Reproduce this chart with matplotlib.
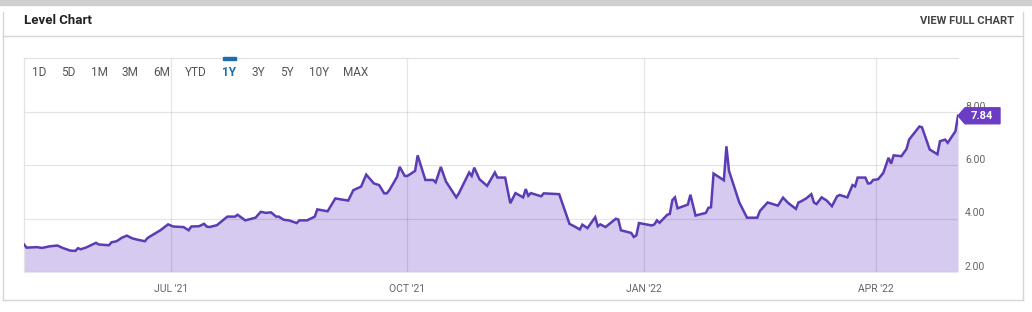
import matplotlib
matplotlib.use("Agg")
import matplotlib.pyplot as plt
import matplotlib.dates as mdates
from matplotlib.patches import Polygon, Rectangle
from matplotlib.lines import Line2D
import pandas as pd

# level data
dates = [
    "2021-05-05", "2021-05-06", "2021-05-10", "2021-05-12", "2021-05-15", "2021-05-18",
    "2021-05-20", "2021-05-23", "2021-05-25", "2021-05-26", "2021-05-27", "2021-05-29",
    "2021-05-31", "2021-06-02", "2021-06-03", "2021-06-07", "2021-06-08", "2021-06-10",
    "2021-06-12", "2021-06-14", "2021-06-16", "2021-06-18", "2021-06-21", "2021-06-22",
    "2021-06-23", "2021-06-27", "2021-06-30", "2021-07-02", "2021-07-06", "2021-07-08",
    "2021-07-09", "2021-07-12", "2021-07-14", "2021-07-15", "2021-07-16", "2021-07-19",
    "2021-07-23", "2021-07-26", "2021-07-27", "2021-07-30", "2021-08-03", "2021-08-05",
    "2021-08-07", "2021-08-09", "2021-08-11", "2021-08-12", "2021-08-14", "2021-08-16",
    "2021-08-19", "2021-08-20", "2021-08-23", "2021-08-26", "2021-08-27", "2021-08-31",
    "2021-09-03", "2021-09-08", "2021-09-10", "2021-09-13", "2021-09-15", "2021-09-18",
    "2021-09-20", "2021-09-22", "2021-09-23", "2021-09-24", "2021-09-27", "2021-09-28",
    "2021-09-30", "2021-10-01", "2021-10-04", "2021-10-05", "2021-10-08", "2021-10-11",
    "2021-10-12", "2021-10-14", "2021-10-16", "2021-10-20", "2021-10-21", "2021-10-25",
    "2021-10-26", "2021-10-27", "2021-10-29", "2021-11-01", "2021-11-04", "2021-11-05",
    "2021-11-08", "2021-11-10", "2021-11-12", "2021-11-15", "2021-11-16", "2021-11-17",
    "2021-11-18", "2021-11-22", "2021-11-23", "2021-11-29", "2021-12-03", "2021-12-05",
    "2021-12-07", "2021-12-08", "2021-12-10", "2021-12-13", "2021-12-14", "2021-12-15",
    "2021-12-17", "2021-12-21", "2021-12-22", "2021-12-23", "2021-12-27", "2021-12-28",
    "2021-12-29", "2021-12-30", "2022-01-04", "2022-01-05", "2022-01-06", "2022-01-07",
    "2022-01-10", "2022-01-11", "2022-01-12", "2022-01-13", "2022-01-14", "2022-01-18",
    "2022-01-19", "2022-01-21", "2022-01-25", "2022-01-26", "2022-01-27", "2022-01-28",
    "2022-02-01", "2022-02-02", "2022-02-03", "2022-02-07", "2022-02-10", "2022-02-14",
    "2022-02-15", "2022-02-18", "2022-02-22", "2022-02-24", "2022-02-26", "2022-03-01",
    "2022-03-02", "2022-03-03", "2022-03-05", "2022-03-07", "2022-03-08", "2022-03-09",
    "2022-03-11", "2022-03-13", "2022-03-15", "2022-03-17", "2022-03-18", "2022-03-21",
    "2022-03-23", "2022-03-24", "2022-03-25", "2022-03-28", "2022-03-29", "2022-03-30",
    "2022-03-31", "2022-04-02", "2022-04-04", "2022-04-06", "2022-04-07", "2022-04-08",
    "2022-04-11", "2022-04-13", "2022-04-14", "2022-04-18", "2022-04-19", "2022-04-22",
    "2022-04-25", "2022-04-26", "2022-04-28", "2022-04-29", "2022-05-02", "2022-05-03",
]
levels = [
    3.03, 2.91, 2.93, 2.90, 2.96, 2.99,
    2.90, 2.80, 2.79, 2.89, 2.85, 2.91,
    3.00, 3.09, 3.03, 3.00, 3.11, 3.15,
    3.28, 3.36, 3.26, 3.21, 3.15, 3.27,
    3.33, 3.56, 3.78, 3.70, 3.68, 3.56,
    3.70, 3.71, 3.80, 3.70, 3.68, 3.75,
    4.07, 4.07, 4.14, 3.93, 4.03, 4.25,
    4.21, 4.23, 4.07, 4.07, 3.95, 3.93,
    3.83, 3.93, 3.93, 4.07, 4.34, 4.27,
    4.75, 4.67, 5.06, 5.19, 5.64, 5.31,
    5.25, 4.94, 4.94, 5.06, 5.56, 5.93,
    5.59, 5.59, 5.78, 6.36, 5.44, 5.44,
    5.35, 5.93, 5.38, 4.79, 4.94, 5.72,
    5.59, 5.90, 5.47, 5.22, 5.72, 5.53,
    5.53, 4.57, 4.95, 4.79, 5.10, 4.85,
    4.95, 4.83, 4.94, 4.91, 3.80, 3.70,
    3.59, 3.77, 3.64, 4.05, 3.71, 3.78,
    3.68, 3.99, 3.96, 3.56, 3.46, 3.31,
    3.37, 3.83, 3.74, 3.78, 3.93, 3.84,
    4.14, 4.17, 4.69, 4.79, 4.38, 4.52,
    4.89, 4.11, 4.21, 4.40, 4.42, 5.68,
    5.43, 6.70, 5.78, 4.60, 4.03, 4.03,
    4.28, 4.60, 4.48, 4.78, 4.58, 4.36,
    4.60, 4.64, 4.75, 4.91, 4.60, 4.54,
    4.79, 4.67, 4.46, 4.83, 4.88, 4.79,
    5.25, 5.20, 5.53, 5.53, 5.31, 5.32,
    5.44, 5.47, 5.71, 6.27, 6.05, 6.36,
    6.33, 6.60, 6.95, 7.44, 7.41, 6.58,
    6.40, 6.89, 6.95, 6.83, 7.26, 7.84,
]

x_ticks = ["2021-07-01", "2021-10-01", "2022-01-01", "2022-04-01"]
x_tick_labels = ["JUL '21", "OCT '21", "JAN '22", "APR '22"]
y_ticks = [2, 4, 6, 8]
ranges = ["1D", "5D", "1M", "3M", "6M", "YTD", "1Y", "3Y", "5Y", "10Y", "MAX"]
active_range = "1Y"

W, H = 1032, 312
FONT = ["Roboto", "DejaVu Sans"]
plt.rcParams["font.family"] = FONT

LINE = "#5b3cb4"
FILL = "#d6caf0"
TXT = "#555555"


def fx(x):
    return x / W


def fy(y):
    return 1 - y / H


fig = plt.figure(figsize=(W / 100, H / 100), dpi=100)
fig.patch.set_facecolor("white")

# card frame
fig.patches.append(Rectangle((0, fy(5)), 1, 5 / H, transform=fig.transFigure,
                             color="#cfcfcf", zorder=0))
fig.lines.append(Line2D([fx(3), fx(3)], [fy(12), fy(300)], transform=fig.transFigure,
                        color="#d6d6d6", lw=1))
fig.lines.append(Line2D([fx(1023), fx(1023)], [fy(12), fy(300)], transform=fig.transFigure,
                        color="#d6d6d6", lw=1))
fig.lines.append(Line2D([fx(3), fx(1023)], [fy(300), fy(300)], transform=fig.transFigure,
                        color="#d6d6d6", lw=1))
fig.lines.append(Line2D([fx(3), fx(1023)], [fy(36), fy(36)], transform=fig.transFigure,
                        color="#d6d6d6", lw=1))

fig.text(fx(24), fy(20), "Level Chart", fontsize=9.5, fontweight="bold",
         color="#222222", ha="left", va="center")
fig.text(fx(1014), fy(21), "VIEW FULL CHART", fontsize=8, fontweight="bold",
         color="#444444", ha="right", va="center")

# plot area
ax = fig.add_axes([fx(24), fy(272), (958 - 24) / W, (272 - 58) / H])
t = pd.to_datetime(dates)
ax.fill_between(t, levels, 2, color=FILL, lw=0, zorder=1)
ax.plot(t, levels, color=LINE, lw=1.8, zorder=3, solid_joinstyle="miter")
ax.set_xlim(t[0], t[-1])
ax.set_ylim(2, 10)

ax.set_xticks(pd.to_datetime(x_ticks))
ax.set_xticklabels(x_tick_labels)
ax.set_yticks(y_ticks)
ax.yaxis.tick_right()
ax.set_yticklabels([f"{v:.2f}" for v in y_ticks])
ax.tick_params(axis="both", length=0, colors="#666666", labelsize=7.5)
ax.tick_params(axis="x", pad=9)
ax.tick_params(axis="y", pad=5)
for lab in ax.get_yticklabels():
    lab.set_verticalalignment("bottom")
ax.grid(True, color="black", alpha=0.1, lw=0.9)
ax.set_axisbelow("line")
for side in ["right", "bottom"]:
    ax.spines[side].set_visible(False)
for side in ["top", "left"]:
    ax.spines[side].set_color("#e3e3e3")
    ax.spines[side].set_linewidth(0.9)

# range selector
range_x = [39, 68, 99, 130, 162, 196, 229, 258, 287, 319, 356]
for label, xx in zip(ranges, range_x):
    on = label == active_range
    fig.text(fx(xx), fy(72), label, fontsize=8.5, ha="center", va="center",
             color="#1c6db0" if on else TXT, fontweight="bold" if on else "normal")
    if on:
        fig.patches.append(Rectangle((fx(xx - 6.5), fy(60)), 13 / W, 3 / H,
                                     transform=fig.transFigure, color="#1c6db0"))

# last value badge
fig.canvas.draw()
tip = ax.transData.transform((mdates.date2num(t[-1]), levels[-1]))
tx, ty = tip[0], tip[1]
badge = Polygon([(tx, ty), (tx + 7, ty + 8), (tx + 42, ty + 8), (tx + 42, ty - 8),
                 (tx + 7, ty - 8)], closed=True, transform=None, color="#6a3dc4",
                zorder=10)
fig.patches.append(badge)
fig.text((tx + 24) / W, ty / H, f"{levels[-1]:.2f}", fontsize=8, fontweight="bold",
         color="white", ha="center", va="center", zorder=11)

fig.savefig("out.png", dpi=100)
